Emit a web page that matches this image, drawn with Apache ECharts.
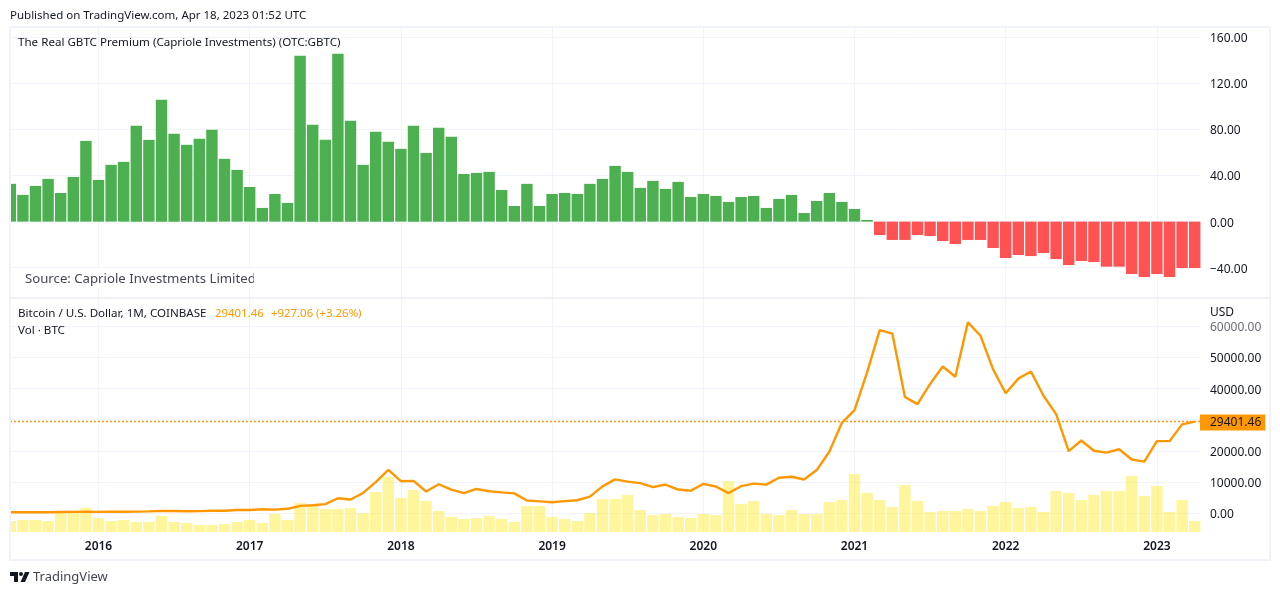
<!DOCTYPE html>
<html>
<head>
<meta charset="utf-8">
<style>html,body{margin:0;padding:0;background:#fff}#chart{width:1280px;height:595px}</style>
<script src="https://cdn.jsdelivr.net/npm/echarts@6/dist/echarts.min.js"></script>
</head>
<body>
<div id="chart"></div>
<script>
// monthly data, index 0 = Jun 2015, index 94 = Apr 2023
const premium = [32.8,23.2,31,37.1,24.9,38.8,70.1,36.2,49.3,51.9,83.2,71,105.8,76.2,66.7,71.9,79.7,54.5,44.9,30.1,
  11.9,24,16.2,144,84,71,145.8,87.5,49.3,78,69.3,63.2,83.2,59.7,81.4,73.6,41.4,42.3,43.2,27.5,
  13.6,32.8,13.6,24,24.9,24,32.8,37.1,48.4,43.2,29.3,35.4,28.4,34.5,21.4,24,22.3,17.1,21.4,22.3,
  11.9,19.7,23.2,7.5,18,24.9,17.1,11,1.5,-11.6,-15.9,-15.9,-11.6,-12.5,-16.8,-19.4,-15.9,-15.9,-22.9,-31.6,
  -29,-29.9,-27.2,-32.5,-37.7,-34.2,-35.1,-39.1,-39.1,-45.5,-48.1,-45.5,-48.1,-40.3,-40.3]
const price = [263,284,230,236,314,377,430,369,437,416,448,531,673,624,575,609,700,742,968,970,
  1190,1080,1350,2300,2480,2870,4740,4340,6450,9950,13860,10230,10320,6925,9240,7490,6390,7730,7010,6630,
  6300,4020,3740,3440,3810,4100,5270,8570,10800,10080,9600,8300,9150,7540,7170,9350,8530,6410,8620,9450,
  9140,11350,11650,10780,13800,19700,29000,33100,45200,58800,57700,37300,35000,41500,47100,43800,61300,57000,46200,38500,
  43200,45500,37700,31800,19900,23300,20000,19400,20500,17200,16500,23100,23100,28500,29401.46]
const volume = [33,36,36,33,60,60,72,42,33,36,30,30,48,30,27,21,21,24,30,36,
  27,54,36,87,81,69,69,72,57,120,165,102,126,93,63,45,39,42,48,39,
  30,78,78,45,39,33,57,99,99,111,66,51,54,45,42,54,51,153,84,93,
  54,51,66,54,54,90,96,174,117,96,75,141,93,60,63,63,69,63,78,90,
  72,75,60,123,117,96,111,123,123,168,108,138,60,96,33]
const yearTicks = [7,19,31,43,55,67,79,91]
const yearLabels = ['2016','2017','2018','2019','2020','2021','2022','2023']
const premiumTicks = [-40,0,40,80,120,160]
const priceTicks = [0,10000,20000,30000,40000,50000,60000]
const lastPrice = 29401.46

const font = '"Noto Sans"'
const gridColor = '#f0f3fa'
const textColor = '#131722'
const orange = '#ff9800'
const xMin = -0.024
const xMax = 94.42

const xBase = {
  type: 'value',
  min: xMin,
  max: xMax,
  axisLine: {show: false},
  axisTick: {show: false, customValues: yearTicks},
  splitLine: {show: true, lineStyle: {color: gridColor, width: 1}}
}
const yBase = {
  type: 'value',
  position: 'right',
  axisLine: {show: false},
  axisTick: {show: false},
  splitLine: {show: true, lineStyle: {color: gridColor, width: 1}}
}
// tick labels sit a little below their gridline
const tickRich = {
  t: {fontSize: 12, color: textColor, padding: [3, 0, 0, 0]},
  f: {fontSize: 12, color: '#6a6d78', padding: [3, 0, 0, 0]}
}

function label(text, x, y, color, size, extra) {
  return {
    type: 'text', x: x, y: y, z: 20,
    style: Object.assign({text: text, fill: color, font: size + 'px ' + font, textVerticalAlign: 'middle'}, extra || {})
  }
}

const chart = echarts.init(document.getElementById('chart'))
chart.setOption({
  animation: false,
  backgroundColor: '#fff',
  textStyle: {fontFamily: font},
  grid: [
    {left: 10, right: 80, top: 28, height: 270},
    {left: 10, right: 80, top: 299, height: 233}
  ],
  xAxis: [
    Object.assign({}, xBase, {gridIndex: 0, axisLabel: {show: false}}),
    Object.assign({}, xBase, {
      gridIndex: 1,
      axisLabel: {
        customValues: yearTicks,
        margin: 9,
        color: textColor,
        fontSize: 12,
        fontWeight: 600,
        formatter: v => yearLabels[yearTicks.indexOf(v)]
      }
    })
  ],
  yAxis: [
    Object.assign({}, yBase, {
      gridIndex: 0, min: -66.3, max: 168.1,
      axisTick: {show: false, customValues: premiumTicks},
      axisLabel: {customValues: premiumTicks, margin: 10, rich: tickRich,
        formatter: v => '{t|' + (v < 0 ? '\u2212' + Math.abs(v).toFixed(2) : v.toFixed(2)) + '}'}
    }),
    Object.assign({}, yBase, {
      gridIndex: 1, min: -6109, max: 68810,
      axisTick: {show: false, customValues: priceTicks},
      axisLabel: {customValues: priceTicks.filter(v => v !== 30000), margin: 10, rich: tickRich,
        formatter: v => '{' + (v === 60000 ? 'f' : 't') + '|' + v.toFixed(2) + '}'}
    }),
    // volume has its own hidden scale, values are 1/3 px readings
    {type: 'value', gridIndex: 1, min: 0, max: 699, show: false}
  ],
  series: [
    {
      type: 'bar', xAxisIndex: 0, yAxisIndex: 0, barWidth: 11.4,
      data: premium.map((v, i) => [i, v]),
      itemStyle: {color: p => p.value[1] >= 0 ? '#4caf50' : '#ff5252'}
    },
    {
      type: 'bar', xAxisIndex: 1, yAxisIndex: 2, barWidth: 11.4,
      data: volume.map((v, i) => [i, v]),
      itemStyle: {color: '#ffeb3b', opacity: 0.5}
    },
    {
      type: 'line', xAxisIndex: 1, yAxisIndex: 1, showSymbol: false, z: 5,
      data: price.map((v, i) => [i, v]),
      itemStyle: {color: orange},
      lineStyle: {color: orange, width: 2.4}
    },
    // last price line and its tag
    {
      type: 'line', xAxisIndex: 1, yAxisIndex: 1, showSymbol: false, z: 4,
      data: [[xMin, lastPrice], [xMax, lastPrice]],
      itemStyle: {color: orange},
      lineStyle: {color: orange, type: [2, 2], width: 1.6},
      endLabel: {
        show: true, distance: 0, offset: [0, 1], formatter: lastPrice.toFixed(2),
        backgroundColor: orange, color: textColor, fontSize: 12,
        padding: [3, 4, 1, 10]
      }
    }
  ],
  graphic: [
    // bars do not clip on the left edge, cover the overhang
    {type: 'rect', z: 9, shape: {x: 0, y: 27, width: 9.5, height: 533}, style: {fill: '#fff'}},
    // outer frame and pane separator
    {type: 'rect', z: 10, shape: {x: 10, y: 27, width: 1260, height: 533}, style: {fill: 'none', stroke: gridColor, lineWidth: 2}},
    {type: 'line', z: 10, shape: {x1: 10, y1: 298, x2: 1270, y2: 298}, style: {stroke: '#e0e3eb', lineWidth: 1}},
    label('Published on TradingView.com, Apr 18, 2023 01:52 UTC', 10, 16, textColor, 11.5),
    label('The Real GBTC Premium (Capriole Investments) (OTC:GBTC)', 18, 43, textColor, 11.6),
    // source box is cut off at its right edge in the original
    {type: 'rect', z: 15, shape: {x: 16, y: 268, width: 238, height: 20}, style: {fill: '#fff'}},
    label('Source: Capriole Investments Limited', 25, 279, '#434651', 13.2),
    {type: 'rect', z: 25, shape: {x: 254, y: 268, width: 20, height: 20}, style: {fill: '#fff'}},
    label('Bitcoin / U.S. Dollar, 1M, COINBASE', 18, 314, textColor, 11.6),
    label('29401.46', 215, 314, orange, 11.4),
    label('+927.06 (+3.26%)', 271, 314, orange, 11.4),
    label('Vol \u00b7 BTC', 18, 331, textColor, 11.6),
    label('USD', 1210, 313, textColor, 12),
    // TradingView logo
    {type: 'polygon', z: 20, shape: {points: [[10, 572], [18, 572], [18, 582], [14, 582], [14, 576], [10, 576]]}, style: {fill: textColor}},
    {type: 'polygon', z: 20, shape: {points: [[25, 572], [29.5, 572], [25, 582], [20.5, 582]]}, style: {fill: textColor}},
    {type: 'circle', z: 20, shape: {cx: 21, cy: 574, r: 2}, style: {fill: textColor}},
    label('TradingView', 33, 577, '#434651', 13)
  ]
})
</script>
</body>
</html>
